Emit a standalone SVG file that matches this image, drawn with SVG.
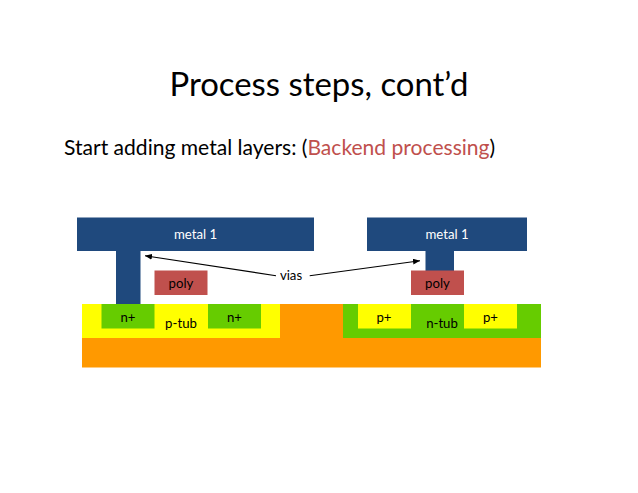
<svg xmlns="http://www.w3.org/2000/svg" width="638" height="493" viewBox="0 0 638 493">
<style>
text{font-family:"Lato","Liberation Sans",sans-serif;fill:#000}
.l{font-size:13.200px;text-anchor:middle}
.metal{fill:#1f497d}.poly{fill:#c0504d}.org{fill:#ff9900}.yel{fill:#ffff00}.grn{fill:#66cc00}
.conn{stroke:#000;stroke-width:1.1;fill:none;marker-end:url(#a)}
</style>
<defs><marker id="a" markerWidth="7" markerHeight="6" refX="7" refY="3" orient="auto" markerUnits="userSpaceOnUse"><path d="M0 0L7 3L0 6Z" fill="#000"/></marker></defs>
<rect width="638" height="493" fill="#fff"/>
<text id="title" x="319" y="96" font-size="32.900" text-anchor="middle">Process steps, cont’d</text>
<text id="subtitle" x="64" y="155" font-size="21.070">Start adding metal layers: (<tspan style="fill:#c0504d">Backend processing</tspan>)</text>
<g id="substrate"><rect class="org" x="82" y="304" width="459" height="63.500"/></g>
<g id="p-tub"><rect class="yel" x="82" y="304" width="198" height="34"/><text class="l" x="181" y="327.500">p-tub</text></g>
<g id="n-tub"><rect class="grn" x="343" y="304" width="198" height="34"/><text class="l" x="442" y="327.500">n-tub</text></g>
<g id="nplus-1"><rect class="grn" x="101.500" y="304" width="53" height="24.500"/><text class="l" x="128" y="322">n+</text></g>
<g id="nplus-2"><rect class="grn" x="208" y="304" width="53" height="24.500"/><text class="l" x="234.500" y="322">n+</text></g>
<g id="pplus-1"><rect class="yel" x="358" y="304" width="53" height="24.500"/><text class="l" x="384" y="322">p+</text></g>
<g id="pplus-2"><rect class="yel" x="464" y="304" width="53" height="24.500"/><text class="l" x="490.500" y="322">p+</text></g>
<g id="via-1"><rect class="metal" x="116" y="250" width="24.500" height="54"/></g>
<g id="via-2"><rect class="metal" x="425.500" y="250" width="28.500" height="21"/></g>
<g id="poly-1"><rect class="poly" x="154.500" y="270.500" width="53" height="24.500"/><text class="l" x="181" y="288">poly</text></g>
<g id="poly-2"><rect class="poly" x="411" y="270.500" width="53" height="24.500"/><text class="l" x="437.500" y="288">poly</text></g>
<g id="metal-1a"><rect class="metal" x="77" y="217.500" width="237" height="33.500"/><text class="l" style="fill:#fff" x="195.500" y="239">metal 1</text></g>
<g id="metal-1b"><rect class="metal" x="367" y="217.500" width="160" height="33.500"/><text class="l" style="fill:#fff" x="447" y="239">metal 1</text></g>
<g id="vias-label"><text class="l" x="291" y="280">vias</text></g>
<g id="connectors">
<path class="conn" d="M276 275.700L145 255.700"/>
<path class="conn" d="M309.700 275.700L420 260.700"/>
</g>
</svg>
